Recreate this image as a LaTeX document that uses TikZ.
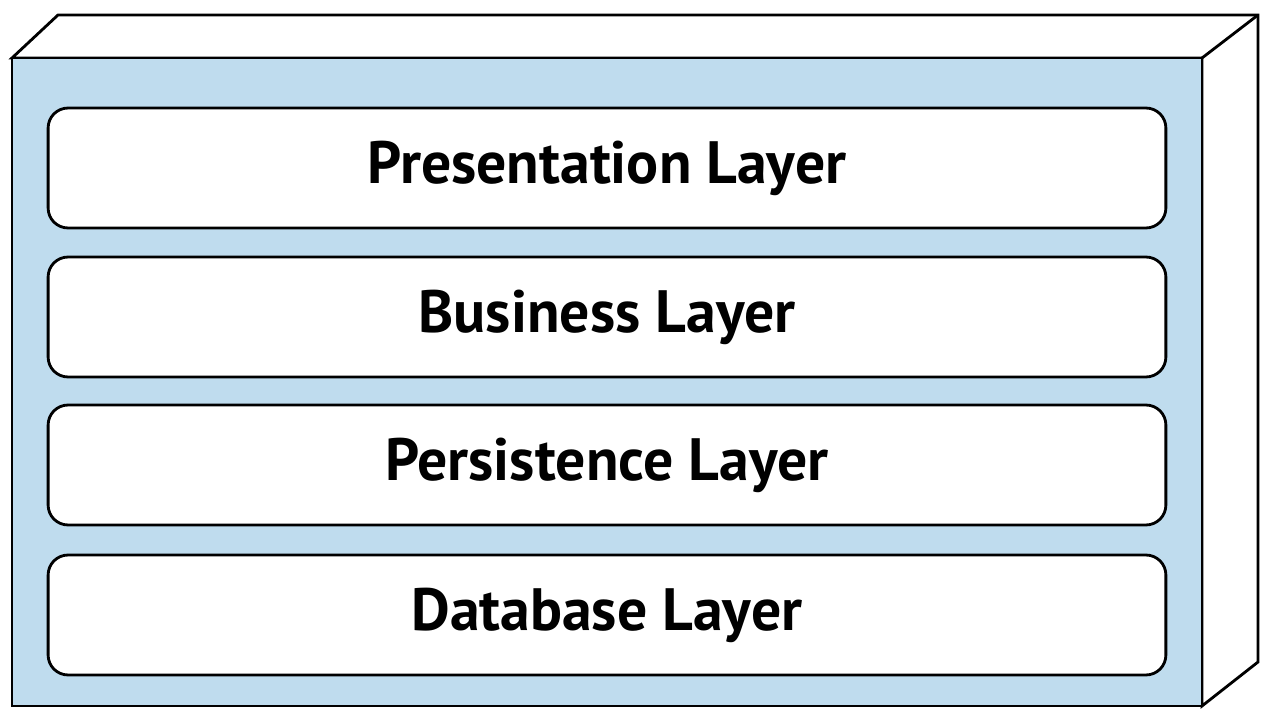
\documentclass[tikz,border=0pt]{standalone}
\usepackage{fontspec}
\setmainfont{PT Sans}
\usetikzlibrary{positioning}
\definecolor{tierblue}{HTML}{BFDCEE}
\newcommand{\layertext}[1]{\raisebox{-0.22cm}{#1}}
\tikzset{%
	layer box/.style={
		draw,
		line width=1.6pt,
		rounded corners=0.4cm,
		fill=white,
		minimum width=22.36cm,
		minimum height=2.4cm,
		font=\fontsize{34}{40}\selectfont\bfseries
	},
}
\begin{document}
\begin{tikzpicture}[x=0.02cm,y=-0.02cm]
	\useasboundingbox (0,0) rectangle (1268,716);
	% Outer tier
	\draw[line width=1.6pt, fill=white] (12,58) -- (58,15) -- (1258,15) -- (1258,662) -- (1202,706) -- (1202,58) -- cycle;
	\draw[line width=1.6pt] (1202,58) -- (1258,15);
	\draw[line width=1.6pt, fill=tierblue] (12,58) rectangle (1202,706);
	% Layers
	\node[layer box] (Presentation) at (607,168) {\layertext{Presentation Layer}};
	\node[layer box] (Business) at (607,317) {\layertext{Business Layer}};
	\node[layer box] (Persistence) at (607,465) {\layertext{Persistence Layer}};
	\node[layer box] (Database) at (607,615) {\layertext{Database Layer}};
\end{tikzpicture}
\end{document}
